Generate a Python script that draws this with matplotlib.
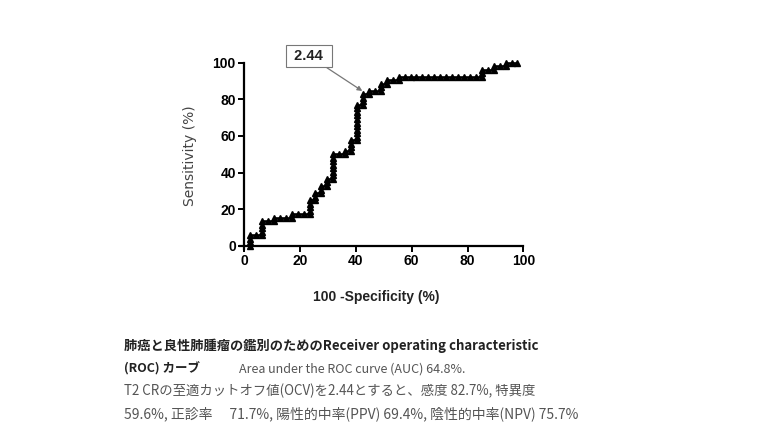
import matplotlib
matplotlib.use("Agg")
import matplotlib.pyplot as plt

# ROC points as counts (false positives out of 47 benign, true positives out of 52 cancer)
N_NEG = 47
N_POS = 52
fp_counts = [1, 1, 1, 1, 2, 3, 3, 3, 3, 3, 4, 5, 5, 6, 7, 8, 8, 9, 10, 11,
             11, 11, 11, 11, 12, 12, 12, 13, 13, 13, 14, 14, 14,
             15, 15, 15, 15, 15, 15, 15, 15, 16, 17, 17, 18, 18, 18, 18,
             19, 19, 19, 19, 19, 19, 19, 19, 19, 19, 19, 20, 20, 20, 20,
             21, 21, 22, 23, 23, 23, 24, 24, 25, 26, 26,
             27, 28, 29, 30, 31, 32, 33, 34, 35, 36, 37, 38, 39, 40, 40, 40,
             41, 42, 42, 43, 44, 44, 45, 46]
tp_counts = [0, 1, 2, 3, 3, 3, 4, 5, 6, 7, 7, 7, 8, 8, 8, 8, 9, 9, 9, 9,
             10, 11, 12, 13, 13, 14, 15, 15, 16, 17, 17, 18, 19,
             19, 20, 21, 22, 23, 24, 25, 26, 26, 26, 27, 27, 28, 29, 30,
             30, 31, 32, 33, 34, 35, 36, 37, 38, 39, 40, 40, 41, 42, 43,
             43, 44, 44, 44, 45, 46, 46, 47, 47, 47, 48,
             48, 48, 48, 48, 48, 48, 48, 48, 48, 48, 48, 48, 48, 48, 49, 50,
             50, 50, 51, 51, 51, 52, 52, 52]

x_pct = [100.0 * v / N_NEG for v in fp_counts]
y_pct = [100.0 * v / N_POS for v in tp_counts]

ticks = [0, 20, 40, 60, 80, 100]
cutoff_label = "2.44"
cutoff_point = (42.3, 84.5)

caption_lines = [
    "肺癌と良性肺腫瘤の鑑別のためのReceiver operating characteristic",
    "(ROC) カーブ",
    "Area under the ROC curve (AUC) 64.8%.",
    "T2 CRの至適カットオフ値(OCV)を2.44とすると、感度 82.7%, 特異度",
    "59.6%, 正診率　 71.7%, 陽性的中率(PPV) 69.4%, 陰性的中率(NPV) 75.7%",
]

JP = ["Noto Sans CJK JP", "DejaVu Sans"]
plt.rcParams["font.family"] = ["Liberation Sans", "DejaVu Sans"]

fig = plt.figure(figsize=(7.68, 4.32), dpi=100)
ax = fig.add_axes([0.3125, 0.4242, 0.369, 0.431])

ax.plot(x_pct, y_pct, color="black", lw=1.9, marker="^", ms=4,
        mec="black", mfc="black", clip_on=False, zorder=3)

ax.set_xlim(-1.5, 100)
ax.set_ylim(-1.5, 100)
ax.spines["left"].set_position(("data", 0))
ax.spines["bottom"].set_position(("data", 0))
ax.spines["top"].set_visible(False)
ax.spines["right"].set_visible(False)
for s in ("left", "bottom"):
    ax.spines[s].set_linewidth(1.6)
ax.set_xticks(ticks)
ax.set_yticks(ticks)
ax.tick_params(direction="out", length=4, width=1.4, labelsize=10, pad=2)
for lab in ax.get_xticklabels() + ax.get_yticklabels():
    lab.set_fontweight("bold")

fig.text(190 / 768, 1 - 156 / 432, "Sensitivity (%)", rotation=90,
         ha="center", va="center", fontsize=10, color="#444444",
         family="DejaVu Sans")
fig.text(376 / 768, 1 - 297 / 432, "100 -Specificity (%)",
         ha="center", va="center", fontsize=10, fontweight="bold", color="#222222")

ax.annotate(" " + cutoff_label + " ", xy=cutoff_point, xycoords="data",
            xytext=(309 / 768, 1 - 56 / 432), textcoords="figure fraction",
            ha="center", va="center", fontsize=10.5, fontweight="bold",
            color="#222222",
            bbox=dict(boxstyle="square,pad=0.3", fc="white", ec="#777777", lw=0.8),
            arrowprops=dict(arrowstyle="-|>", color="#777777", lw=0.9,
                            mutation_scale=7, shrinkA=0, shrinkB=0))

# caption below the chart
x0 = 124 / 768
fig.text(x0, 1 - 346 / 432, caption_lines[0], family=JP, fontsize=9.5,
         fontweight="bold", color="#222222", va="center")
fig.text(x0, 1 - 369 / 432, caption_lines[1], family=JP, fontsize=9,
         fontweight="bold", color="#222222", va="center")
fig.text(239 / 768, 1 - 369 / 432, caption_lines[2], family=JP, fontsize=9,
         color="#555555", va="center")
fig.text(x0, 1 - 391 / 432, caption_lines[3], family=JP, fontsize=9.6,
         color="#555555", va="center")
fig.text(x0, 1 - 414 / 432, caption_lines[4], family=JP, fontsize=10,
         color="#555555", va="center")

fig.savefig("out.png", dpi=100, facecolor="white")
